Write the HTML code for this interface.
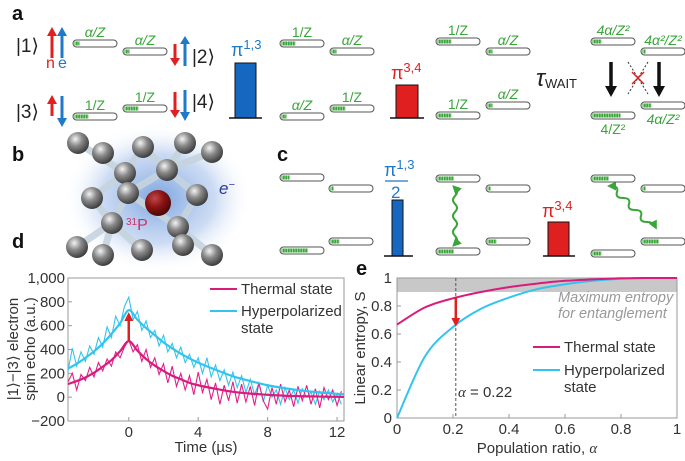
<!DOCTYPE html>
<html><head><meta charset="utf-8">
<style>
html,body{margin:0;padding:0;background:#fff;}
svg{display:block;font-family:"Liberation Sans",sans-serif;}
.lbl{font-weight:bold;font-size:20px;fill:#111;}
.g{fill:#3aa53a;font-size:14px;}
.gi{fill:#3aa53a;font-size:14px;font-style:italic;}
.tick{font-size:15px;fill:#333;}
.leg{font-size:15px;fill:#333;}
</style></head>
<body>
<svg id="fig" width="685" height="461" viewBox="0 0 685 461" xmlns="http://www.w3.org/2000/svg">
<defs>
<radialGradient id="glow" cx="0.5" cy="0.5" r="0.5">
<stop offset="0" stop-color="#4f86d6" stop-opacity="0.75"/>
<stop offset="0.6" stop-color="#8fb0e6" stop-opacity="0.45"/>
<stop offset="1" stop-color="#ffffff" stop-opacity="0"/>
</radialGradient>
<radialGradient id="ball" cx="0.38" cy="0.32" r="0.7">
<stop offset="0" stop-color="#f4f4f4"/>
<stop offset="0.45" stop-color="#8a8a8a"/>
<stop offset="1" stop-color="#3a3a3a"/>
</radialGradient>
<radialGradient id="pball" cx="0.38" cy="0.32" r="0.7">
<stop offset="0" stop-color="#c04848"/>
<stop offset="0.5" stop-color="#8a1414"/>
<stop offset="1" stop-color="#4a0606"/>
</radialGradient>
<marker id="ahR" markerUnits="userSpaceOnUse" markerWidth="9" markerHeight="9" refX="5" refY="4.5" orient="auto"><path d="M0,0 L9,4.5 L0,9 Z" fill="#e02020"/></marker>
<marker id="ahG" markerUnits="userSpaceOnUse" markerWidth="9" markerHeight="9" refX="5" refY="4.5" orient="auto-start-reverse"><path d="M0,0 L9,4.5 L0,9 Z" fill="#3aa53a"/></marker>
</defs>

<text class="lbl" x="12" y="20">a</text>
<text class="lbl" x="12" y="161">b</text>
<text class="lbl" x="277" y="161">c</text>
<text class="lbl" x="12" y="248">d</text>
<text class="lbl" x="356" y="275">e</text>

<g font-size="19" fill="#222">
<text x="16" y="52">|1⟩</text>
<text x="16" y="118">|3⟩</text>
<text x="192" y="63">|2⟩</text>
<text x="192" y="108">|4⟩</text>
</g>
<g stroke-width="3">
<line x1="52" y1="58" x2="52" y2="34" stroke="#e02020"/><path d="M47,36 L52,27 L57,36Z" fill="#e02020"/>
<line x1="62" y1="58" x2="62" y2="34" stroke="#1f78c8"/><path d="M57,36 L62,27 L67,36Z" fill="#1f78c8"/>
<text x="46" y="68" font-size="16" fill="#e02020" stroke="none">n</text><text x="58" y="68" font-size="16" fill="#1f78c8" stroke="none">e</text>
<line x1="175" y1="44" x2="175" y2="60" stroke="#e02020"/><path d="M170,58 L175,66 L180,58Z" fill="#e02020"/>
<line x1="185" y1="66" x2="185" y2="42" stroke="#1f78c8"/><path d="M180,44 L185,36 L190,44Z" fill="#1f78c8"/>
<line x1="52" y1="116" x2="52" y2="102" stroke="#e02020"/><path d="M47,104 L52,95 L57,104Z" fill="#e02020"/>
<line x1="62" y1="96" x2="62" y2="120" stroke="#1f78c8"/><path d="M57,118 L62,127 L67,118Z" fill="#1f78c8"/>
<line x1="175" y1="92" x2="175" y2="112" stroke="#e02020"/><path d="M170,110 L175,118 L180,110Z" fill="#e02020"/>
<line x1="185" y1="90" x2="185" y2="114" stroke="#1f78c8"/><path d="M180,112 L185,121 L190,112Z" fill="#1f78c8"/>
</g>

<g>
<text x="231" y="56" font-size="18" fill="#1f78c8">π<tspan font-size="13" dy="-7">1,3</tspan></text>
<rect x="235" y="63" width="21" height="55" fill="#1567c0" stroke="#111" stroke-width="1"/>
<line x1="229" y1="118" x2="262" y2="118" stroke="#111" stroke-width="1.5"/>
</g>
<g>
<text x="391" y="79" font-size="18" fill="#e02020">π<tspan font-size="13" dy="-7">3,4</tspan></text>
<rect x="396" y="85" width="22" height="33" fill="#e02020" stroke="#111" stroke-width="1"/>
<line x1="390" y1="118" x2="424" y2="118" stroke="#111" stroke-width="1.5"/>
</g>
<text x="536" y="86" font-size="24" font-style="italic" fill="#222">τ<tspan font-size="13" font-style="normal" dy="2">WAIT</tspan></text>
<g>
<line x1="611" y1="62" x2="611" y2="88" stroke="#111" stroke-width="3.5"/><path d="M605,86 L611,97 L617,86Z" fill="#111"/>
<line x1="659" y1="62" x2="659" y2="88" stroke="#111" stroke-width="3.5"/><path d="M653,86 L659,97 L665,86Z" fill="#111"/>
<line x1="628" y1="62" x2="648" y2="94" stroke="#333" stroke-dasharray="2,2"/>
<line x1="648" y1="62" x2="628" y2="94" stroke="#333" stroke-dasharray="2,2"/>
<line x1="632" y1="72" x2="644" y2="84" stroke="#e02020" stroke-width="1.5"/>
<line x1="644" y1="72" x2="632" y2="84" stroke="#e02020" stroke-width="1.5"/>
</g>

<g>
<text x="384" y="176" font-size="18" fill="#1f78c8">π<tspan font-size="13" dy="-7">1,3</tspan></text>
<line x1="385" y1="181" x2="408" y2="181" stroke="#1f78c8" stroke-width="1.3"/>
<text x="391" y="198" font-size="17" fill="#1f78c8">2</text>
<rect x="392" y="200" width="11" height="56" fill="#1567c0" stroke="#111" stroke-width="1"/>
<line x1="384" y1="256" x2="413" y2="256" stroke="#111" stroke-width="1.5"/>
</g>
<g>
<text x="542" y="217" font-size="18" fill="#e02020">π<tspan font-size="13" dy="-7">3,4</tspan></text>
<rect x="548" y="222" width="21" height="34" fill="#e02020" stroke="#111" stroke-width="1"/>
<line x1="543" y1="256" x2="575" y2="256" stroke="#111" stroke-width="1.5"/>
</g>
<g fill="none" stroke="#3aa53a" stroke-width="2">
<path d="M455,188 q4,4 0,8 q-4,4 0,8 q4,4 0,8 q-4,4 0,8 q4,4 0,8 q-4,4 0,8 q4,4 0,8" marker-start="url(#ahG)" marker-end="url(#ahG)"/>
<path d="M611,186 q8,0 6,6 q-2,6 6,6 q8,0 6,6 q-2,6 6,6 q8,0 6,6 q-2,6 6,6 q6,0 8,4" marker-start="url(#ahG)" marker-end="url(#ahG)"/>
</g>

<g id="levels"></g>

<g id="mol">
<ellipse cx="158" cy="198" rx="95" ry="75" fill="url(#glow)"/>
</g>
<text x="126" y="230" font-size="13" fill="#d0306a"><tspan font-size="10" dy="-5">31</tspan><tspan dy="5" font-size="16">P</tspan></text>
<text x="219" y="194" font-size="17" font-style="italic" fill="#2a3a9a">e<tspan font-size="11" dy="-6">−</tspan></text>

<g id="chartD"></g>
<g id="chartE"></g>
</svg>

<script>
// ---------- panel d data ----------
const echoTimes = [-3.5,-3.25,-3,-2.75,-2.5,-2.25,-2,-1.75,-1.5,-1.25,-1,-0.75,-0.5,-0.25,0,0.25,0.5,0.75,1,1.25,1.5,1.75,2,2.25,2.5,2.75,3,3.25,3.5,3.75,4,4.25,4.5,4.75,5,5.25,5.5,5.75,6,6.25,6.5,6.75,7,7.25,7.5,7.75,8,8.25,8.5,8.75,9,9.25,9.5,9.75,10,10.25,10.5,10.75,11,11.25,11.5,11.75,12,12.25];
const thermalEcho = [130,200,60,190,140,250,170,290,220,320,260,380,330,420,480,380,440,300,400,250,330,190,280,120,260,90,200,60,180,20,210,40,150,-20,120,-60,100,-30,130,-50,110,-40,90,-70,120,-30,-100,80,-60,110,-40,60,-80,90,-30,100,-60,70,-90,80,-20,60,-70,50];
const hyperEcho = [220,410,260,380,300,430,360,500,420,590,500,680,600,760,840,650,720,560,640,500,560,430,520,380,450,330,420,290,360,250,330,200,330,170,270,140,230,100,210,80,180,40,150,20,120,-40,100,0,60,-60,80,-20,60,-50,70,0,40,-60,50,-20,60,-40,30,-60];
const fitTimes = [-3.5,-3,-2.5,-2,-1.5,-1,-0.5,0,0.5,1,1.5,2,2.5,3,3.5,4,5,6,7,8,9,10,11,12,12.4];
const thermalFit = [110,135,165,205,255,310,385,470,390,320,265,220,180,150,120,100,70,45,30,20,12,8,5,3,2];
const hyperFit = [240,280,330,385,450,530,620,730,650,580,520,460,410,365,325,290,230,175,135,100,75,55,40,28,24];
const dXTicks = [0,4,8,12];
const dYTicks = [-200,0,200,400,600,800,1000];
const dYTickLabels = ['−200','0','200','400','600','800','1,000'];

// ---------- panel e data ----------
const alphaVals = [0,0.1,0.2,0.3,0.4,0.5,0.6,0.7,0.8,0.9,1];
const thermalS = [0.667,0.79,0.855,0.9,0.935,0.96,0.98,0.99,0.998,1,1];
const hyperS = [0,0.44,0.65,0.78,0.86,0.92,0.955,0.98,0.995,1,1];
const eXTicks = [0,0.2,0.4,0.6,0.8,1];
const eYTicks = [0,0.2,0.4,0.6,0.8,1];
const alphaMarker = 0.21;

const NS='http://www.w3.org/2000/svg';
function mk(tag, parent, attrs){const e=document.createElementNS(NS,tag);for(const k in attrs)e.setAttribute(k,attrs[k]);parent.appendChild(e);return e;}
function smooth(pts){let d='M'+pts[0][0]+','+pts[0][1];for(let i=0;i<pts.length-1;i++){const p0=pts[Math.max(i-1,0)],p1=pts[i],p2=pts[i+1],p3=pts[Math.min(i+2,pts.length-1)];const c1x=p1[0]+(p2[0]-p0[0])/6,c1y=p1[1]+(p2[1]-p0[1])/6,c2x=p2[0]-(p3[0]-p1[0])/6,c2y=p2[1]-(p3[1]-p1[1])/6;d+=' C'+c1x+','+c1y+' '+c2x+','+c2y+' '+p2[0]+','+p2[1];}return d;}

// ---------- levels ----------
const levels = mk('g', document.getElementById('levels'), {});
const levelSpec = [
 [73,40,5,'α/Z','a'],[123,48,5,'α/Z','a'],[73,113,14,'1/Z','a'],[123,105,14,'1/Z','a'],
 [280,40,14,'1/Z','a'],[330,48,5,'α/Z','a'],[280,113,5,'α/Z','a'],[330,105,14,'1/Z','a'],
 [436,38,14,'1/Z','a'],[486,48,5,'α/Z','a'],[436,112,14,'1/Z','a'],[486,102,5,'α/Z','a'],
 [591,38,9,'4α/Z²','a'],[641,48,3,'4α²/Z²','a'],[591,112,28,'4/Z²','b'],[641,102,9,'4α/Z²','b'],
 [280,174,8,'',''],[329,185,3,'',''],[280,247,26,'',''],[329,238,9,'',''],
 [436,175,16,'',''],[486,185,3,'',''],[436,248,16,'',''],[486,238,9,'',''],
 [591,175,16,'',''],[641,185,3,'',''],[591,250,9,'',''],[641,238,16,'','']
];
levelSpec.forEach(s=>{
  const g=mk('g',levels,{});
  
  
  mk('rect',g,{x:s[0],y:s[1],width:44,height:7,rx:3.5,fill:'#fff',stroke:'#555','stroke-width':1});
  mk('rect',g,{x:s[0]+1.5,y:s[1]+1.5,width:s[2],height:4,fill:'#3aa53a'});
  for(let i=1;i<s[2];i+=2.5) mk('line',g,{x1:s[0]+1.5+i,y1:s[1]+1.5,x2:s[0]+1.5+i,y2:s[1]+5.5,stroke:'#c8f0c0','stroke-width':0.6});
  if(s[3]){
    const t=mk('text',g,{x:s[0]+22,y:s[4]==='a'?s[1]-3:s[1]+22,'text-anchor':'middle',class:s[3].indexOf('α')>=0?'gi':'g'});
    t.textContent=s[3];
  }
});

// ---------- molecule ----------
const mol=document.getElementById('mol');
const atoms=[[78,143],[103,153],[143,147],[185,143],[212,152],[125,173],[167,170],[92,198],[128,193],[197,195],[112,223],[178,227],[77,247],[103,255],[142,250],[183,245],[212,255]];
const bonds=[[0,5],[2,5],[2,6],[3,6],[4,6],[5,8],[5,7],[6,9],[7,10],[8,11],[9,11],[10,12],[10,14],[11,15],[11,16],[10,13],[8,10],[6,8]];
bonds.forEach(b=>{const a=atoms[b[0]],c=atoms[b[1]];
  const l=mk('line',mol,{x1:a[0],y1:a[1],x2:c[0],y2:c[1],stroke:'#c6d4de','stroke-width':7,'stroke-linecap':'round',opacity:0.9});
  
  
});
const pb=mk('circle',mol,{cx:158,cy:203,r:13,fill:'url(#pball)'});


atoms.forEach(a=>{const c=mk('circle',mol,{cx:a[0],cy:a[1],r:11,fill:'url(#ball)'});
  
  
});

// ---------- chart d ----------
(function(){
  const g=document.getElementById('chartD');
  const L=68,R=344,T=278,B=421;
  const x=t=>L+(t-(-3.5))/(12.4-(-3.5))*(R-L);
  const y=v=>B-(v-(-200))/1200*(B-T);
  const fr=mk('rect',g,{x:L,y:T,width:R-L,height:B-T,fill:'none',stroke:'#999','stroke-width':1});
  
  
  dXTicks.forEach(t=>{mk('line',g,{x1:x(t),y1:B,x2:x(t),y2:B-4,stroke:'#999'});
    const tx=mk('text',g,{x:x(t),y:B+16,'text-anchor':'middle',class:'tick'});tx.textContent=t;
    
    });
  dYTicks.forEach((v,i)=>{mk('line',g,{x1:L,y1:y(v),x2:L+4,y2:y(v),stroke:'#999'});
    const tx=mk('text',g,{x:L-3,y:y(v)+5,'text-anchor':'end',class:'tick'});tx.textContent=dYTickLabels[i];
    
    });
  const pts=(ts,vs)=>ts.map((t,i)=>x(t).toFixed(1)+','+y(vs[i]).toFixed(1)).join(' ');
  const hl=mk('polyline',g,{points:pts(echoTimes,hyperEcho),fill:'none',stroke:'#33c4ee','stroke-width':1.1});
  
  
  const tl=mk('polyline',g,{points:pts(echoTimes,thermalEcho),fill:'none',stroke:'#e0208a','stroke-width':1.1});
  
  
  const hf=mk('path',g,{d:smooth(fitTimes.map((t,i)=>[x(t),y(hyperFit[i])])),fill:'none',stroke:'#33c4ee','stroke-width':2.2});
  
  
  const tf=mk('path',g,{d:smooth(fitTimes.map((t,i)=>[x(t),y(thermalFit[i])])),fill:'none',stroke:'#d81b7d','stroke-width':2.2});
  
  
  const ar=mk('line',g,{x1:x(0),y1:y(thermalFit[7]),x2:x(0),y2:y(hyperFit[7])+6,stroke:'#e02020','stroke-width':2.5,'marker-end':'url(#ahR)'});
  
  
  const xt=mk('text',g,{x:206,y:452,'text-anchor':'middle',class:'leg','font-size':'16'});xt.textContent='Time (µs)';
  
  
  const yt=mk('text',g,{transform:'translate(18,349) rotate(-90)','text-anchor':'middle',class:'leg','font-size':'16'});
  
  
  const t1=mk('tspan',yt,{x:0,dy:0});t1.textContent='|1⟩−|3⟩ electron';
  const t2=mk('tspan',yt,{x:0,dy:17});t2.textContent='spin echo (a.u.)';
  const lg=mk('g',g,{});
  
  
  mk('line',lg,{x1:210,y1:289,x2:237,y2:289,stroke:'#d81b7d','stroke-width':2});
  mk('text',lg,{x:241,y:294,class:'leg'}).textContent='Thermal state';
  mk('line',lg,{x1:210,y1:311,x2:237,y2:311,stroke:'#33c4ee','stroke-width':2});
  mk('text',lg,{x:241,y:316,class:'leg'}).textContent='Hyperpolarized';
  mk('text',lg,{x:241,y:333,class:'leg'}).textContent='state';
})();

// ---------- chart e ----------
(function(){
  const g=document.getElementById('chartE');
  const L=397,R=677,T=278,B=418;
  const x=a=>L+a*(R-L);
  const y=v=>B-v*(B-T);
  const band=mk('rect',g,{x:L,y:y(1),width:R-L,height:y(0.9)-y(1),fill:'#c8c8c8'});
  
  
  const fr=mk('rect',g,{x:L,y:T,width:R-L,height:B-T,fill:'none',stroke:'#999','stroke-width':1});
  
  
  eXTicks.forEach(t=>{mk('line',g,{x1:x(t),y1:B,x2:x(t),y2:B-4,stroke:'#999'});
    const tx=mk('text',g,{x:x(t),y:B+16,'text-anchor':'middle',class:'tick'});tx.textContent=String(t);
    
    });
  eYTicks.forEach(v=>{mk('line',g,{x1:L,y1:y(v),x2:L+4,y2:y(v),stroke:'#999'});
    const tx=mk('text',g,{x:L-5,y:y(v)+5,'text-anchor':'end',class:'tick'});tx.textContent=String(v);
    
    });
  const dl=mk('line',g,{x1:x(alphaMarker),y1:T,x2:x(alphaMarker),y2:B,stroke:'#555','stroke-dasharray':'3,2'});
  
  
  const cs=mk('path',g,{d:smooth(alphaVals.map((a,i)=>[x(a),y(hyperS[i])])),fill:'none',stroke:'#33c4ee','stroke-width':2});
  
  
  const ct=mk('path',g,{d:smooth(alphaVals.map((a,i)=>[x(a),y(thermalS[i])])),fill:'none',stroke:'#d81b7d','stroke-width':2});
  
  
  const ar=mk('line',g,{x1:x(alphaMarker),y1:y(0.86),x2:x(alphaMarker),y2:y(0.68),stroke:'#e02020','stroke-width':2.5,'marker-end':'url(#ahR)'});
  
  
  const m1=mk('text',g,{x:558,y:302,fill:'#999','font-size':'14.5','font-style':'italic'});m1.textContent='Maximum entropy';
  
  
  const m2=mk('text',g,{x:558,y:318,fill:'#999','font-size':'14.5','font-style':'italic'});m2.textContent='for entanglement';
  
  
  const al=mk('text',g,{x:458,y:397,class:'leg','font-size':'16'});al.innerHTML='<tspan font-style="italic" font-family="Liberation Serif">α</tspan> = 0.22';
  
  
  const xt=mk('text',g,{x:537,y:453,'text-anchor':'middle',class:'leg','font-size':'16'});xt.innerHTML='Population ratio, <tspan font-style="italic" font-family="Liberation Serif">α</tspan>';
  
  
  const yt=mk('text',g,{transform:'translate(365,348) rotate(-90)','text-anchor':'middle',class:'leg','font-size':'16'});yt.textContent='Linear entropy, S';
  
  
  const lg=mk('g',g,{});
  
  
  mk('line',lg,{x1:533,y1:347,x2:560,y2:347,stroke:'#d81b7d','stroke-width':2});
  mk('text',lg,{x:564,y:352,class:'leg'}).textContent='Thermal state';
  mk('line',lg,{x1:533,y1:370,x2:560,y2:370,stroke:'#33c4ee','stroke-width':2});
  mk('text',lg,{x:564,y:375,class:'leg'}).textContent='Hyperpolarized';
  mk('text',lg,{x:564,y:392,class:'leg'}).textContent='state';
})();
</script>
</body></html>
